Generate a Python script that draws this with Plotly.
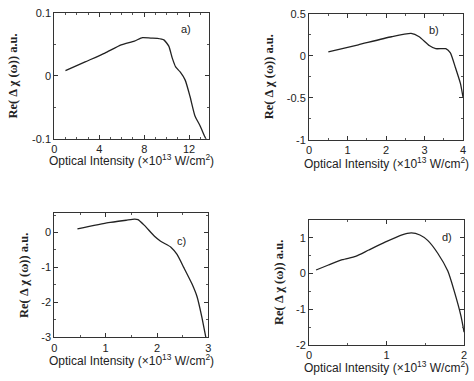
import plotly.graph_objects as go

# Panel a
xa = [0.99, 2.74, 4.5, 5.95, 7.12, 7.85, 8.58, 9.17, 9.75, 10.19, 10.5, 10.8, 11.2, 11.65, 12.08, 12.52, 12.96, 13.4, 13.55]
ya = [0.008, 0.022, 0.036, 0.049, 0.055, 0.0605, 0.0598, 0.0595, 0.057, 0.047, 0.028, 0.014, 0.006, -0.007, -0.033, -0.064, -0.079, -0.097, -0.102]
# Panel b
xb = [0.5, 1.28, 2.14, 2.65, 2.86, 3.12, 3.29, 3.55, 3.67, 3.8, 3.93, 4.0]
yb = [0.046, 0.13, 0.226, 0.265, 0.226, 0.122, 0.084, 0.084, 0.034, -0.14, -0.33, -0.5]
# Panel c
xc = [0.45, 1.05, 1.4, 1.56, 1.63, 1.75, 1.95, 2.07, 2.27, 2.39, 2.52, 2.68, 2.78, 2.87, 2.95]
yc = [0.1, 0.28, 0.35, 0.38, 0.37, 0.21, -0.11, -0.25, -0.42, -0.63, -1.0, -1.47, -1.84, -2.4, -3.0]
# Panel d
xd = [0.09, 0.25, 0.43, 0.6, 0.77, 0.98, 1.19, 1.32, 1.43, 1.53, 1.66, 1.79, 1.87, 1.96, 2.0]
yd = [0.1, 0.24, 0.39, 0.48, 0.66, 0.88, 1.08, 1.14, 1.08, 0.93, 0.57, 0.07, -0.47, -1.19, -1.64]

labels = ["a)", "b)", "c)", "d)"]
ytitle = "Re( Δ χ (ω)) a.u."
xtitle = "Optical Intensity (×10<sup>13</sup> W/cm<sup>2</sup>)"

W, H = 474, 381
def px(x): return x / W
def py(y): return 1 - y / H

panels = [
    dict(x=xa, y=ya, xd=(52, 209), yd=(7, 137), xr=[0, 13.8], yr=[-0.1, 0.1],
         xt=[0, 4, 8, 12], xm=1, yt=[-0.1, 0, 0.1], ytx=["-0.1", "0", "0.1"], ym=0.05,
         lab=(185, 24), yt_x=10, xt_y=159),
    dict(x=xb, y=yb, xd=(310, 466), yd=(8, 138), xr=[0, 4], yr=[-1, 0.5],
         xt=[0, 1, 2, 3, 4], xm=0.5, yt=[-1, -0.5, 0, 0.5], ytx=["-1", "-0.5", "0", "0.5"], ym=0.25,
         lab=(437, 25), yt_x=269, xt_y=162),
    dict(x=xc, y=yc, xd=(52, 208), yd=(214, 342), xr=[0, 3], yr=[-3, 0.55],
         xt=[0, 1, 2, 3], xm=0.5, yt=[-3, -2, -1, 0], ytx=["-3", "-2", "-1", "0"], ym=0.5,
         lab=(181, 243), yt_x=22, xt_y=366),
    dict(x=xd, y=yd, xd=(310, 467), yd=(221, 350), xr=[0, 2], yr=[-2, 1.5],
         xt=[0, 1, 2], xm=0.5, yt=[-2, -1, 0, 1], ytx=["-2", "-1", "0", "1"], ym=0.5,
         lab=(450, 238), yt_x=279, xt_y=373),
]

fig = go.Figure()
anns = []
for i, p in enumerate(panels):
    n = "" if i == 0 else str(i + 1)
    fig.add_trace(go.Scatter(x=p["x"], y=p["y"], mode="lines",
                             line=dict(color="#222", width=1.3, shape="spline", smoothing=0.5),
                             xaxis="x" + n, yaxis="y" + n, showlegend=False, cliponaxis=True))
    ax = dict(domain=[px(p["xd"][0]), px(p["xd"][1])], range=p["xr"], tickvals=p["xt"], ticktext=[str(v) for v in p["xt"]],
              ticks="inside", ticklen=4, tickcolor="#333", showline=True, linecolor="#333", linewidth=1.2, mirror="allticks",
              showgrid=False, zeroline=False, tickfont=dict(family="Arial, Liberation Sans", size=11, color="#222"),
              anchor="y" + n, minor=dict(dtick=p["xm"], ticks="inside", ticklen=2, tickcolor="#555", showgrid=False, tick0=0))
    ay = dict(domain=[py(p["yd"][1]), py(p["yd"][0])], range=p["yr"], tickvals=p["yt"], ticktext=p["ytx"],
              ticks="inside", ticklen=4, tickcolor="#333", showline=True, linecolor="#333", linewidth=1.2, mirror="allticks",
              showgrid=False, zeroline=False, tickfont=dict(family="Arial, Liberation Sans", size=11, color="#222"),
              anchor="x" + n, minor=dict(dtick=p["ym"], ticks="inside", ticklen=2, tickcolor="#555", showgrid=False))
    fig.update_layout(**{("xaxis" + n): ax, ("yaxis" + n): ay})
    anns.append(dict(x=px(p["lab"][0]), y=py(p["lab"][1]), xref="paper", yref="paper", text=labels[i], showarrow=False,
                     xanchor="center", yanchor="middle",
                     font=dict(family="Arial, Liberation Sans", size=11, color="#222")))
    anns.append(dict(x=px(p["yt_x"]), y=py((p["yd"][0] + p["yd"][1]) / 2), xref="paper", yref="paper",
                     text="<b>" + ytitle + "</b>",
                     textangle=-90, showarrow=False, xanchor="center", yanchor="middle",
                     font=dict(family="Liberation Serif, Times New Roman", size=12.5, color="#222")))
    anns.append(dict(x=px((p["xd"][0] + p["xd"][1]) / 2), y=py(p["xt_y"]), xref="paper", yref="paper", text=xtitle,
                     showarrow=False, xanchor="center", yanchor="middle",
                     font=dict(family="Arial, Liberation Sans", size=12, color="#222")))

fig.update_layout(width=W, height=H, margin=dict(l=0, r=0, t=0, b=0), paper_bgcolor="white", plot_bgcolor="white",
                  annotations=anns)
fig.write_html("out.html", config={"displayModeBar": False},
               post_script="document.body.style.margin='0';document.body.style.overflow='hidden';")
